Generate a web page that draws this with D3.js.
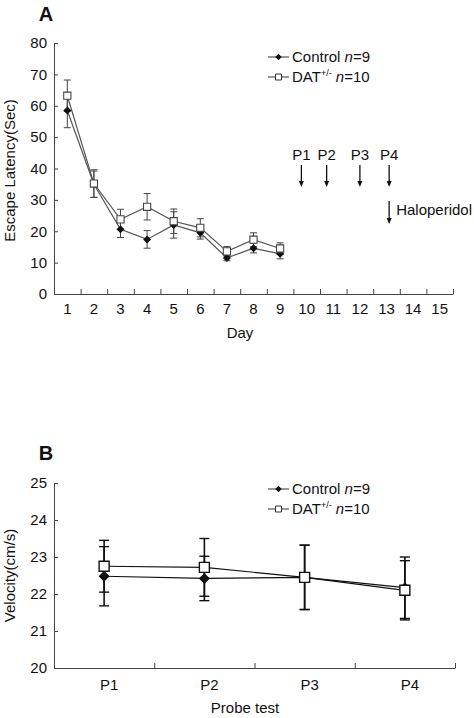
<!DOCTYPE html>
<html><head><meta charset="utf-8">
<script src="https://cdn.jsdelivr.net/npm/d3@7/dist/d3.min.js"></script>
<style>
body{margin:0;background:#fff}
text{font-family:Arial,"Liberation Sans",sans-serif;fill:#111}
</style>
</head><body>
<svg id="c" width="474" height="718"></svg>
<script>
// ---------- Data: panel A ----------
const dayCategories = [1,2,3,4,5,6,7,8,9,10,11,12,13,14,15];
const dataDays      = [1,2,3,4,5,6,7,8,9];
const controlA      = [58.5,35,20.6,17.4,22,19.5,11.5,14.6,12.8];
const controlAErr   = [5.5,4.2,2.6,2.8,4.2,2.0,0.9,1.5,1.6];
const datA          = [63.2,35.2,23.8,27.8,23.2,21.1,13.6,17.3,14.5];
const datAErr       = [5.0,4.4,3.2,4.2,3.9,2.9,1.5,2.2,1.8];
const yTicksA       = [0,10,20,30,40,50,60,70,80];
const probeLabels   = ["P1","P2","P3","P4"];
const probeDayPos   = [9.8,10.75,12.0,13.1];
const haloDayPos    = 13.1;

// ---------- Data: panel B ----------
const probeCategories = ["P1","P2","P3","P4"];
const controlB      = [22.48,22.42,22.45,22.17];
const controlBErr   = [0.8,0.6,0.87,0.83];
const datB          = [22.75,22.72,22.45,22.10];
const datBErr       = [0.7,0.78,0.87,0.80];
const yTicksB       = [20,21,22,23,24,25];

const svg = d3.select("#c");

function diamondPath(cx, cy, r){ return `M${cx},${cy-r}L${cx+r},${cy}L${cx},${cy+r}L${cx-r},${cy}Z`; }
function squarePath(cx, cy, h){ return `M${cx-h},${cy-h}H${cx+h}V${cy+h}H${cx-h}Z`; }

function legend(g, x, y, rowGap, fs){
  const rows = [{name:"Control ", n:"9", sym:"d"},{name:"DAT", sup:"+/-", n:"10", sym:"s"}];
  rows.forEach((r,i)=>{
    const yy = y + i*rowGap;
    g.append("line").attr("x1",x).attr("x2",x+21).attr("y1",yy).attr("y2",yy).attr("stroke","#333").attr("stroke-width",1);
    if(r.sym==="d") g.append("path").attr("d",diamondPath(x+10.5,yy,3.2)).attr("fill","#111");
    else g.append("path").attr("d",squarePath(x+10.5,yy,3)).attr("fill","#fff").attr("stroke","#333").attr("stroke-width",1);
    const t = g.append("text").attr("x",x+24).attr("y",yy).attr("dy","0.36em").attr("font-size",fs);
    t.append("tspan").text(r.name);
    if(r.sup){ t.append("tspan").attr("font-size",fs*0.6).attr("dy","-0.7em").text(r.sup);
               t.append("tspan").attr("dy","0.42em").attr("font-size",fs).text(" "); }
    t.append("tspan").attr("font-style","italic").text("n");
    t.append("tspan").text("=" + r.n);
  });
}

// ================= Panel A =================
(function(){
  const left=54, right=453, top=43, bottom=294;
  const x = d3.scaleBand().domain(dayCategories).range([left,right]).padding(0);
  const xl = d3.scaleLinear().domain([0.5,15.5]).range([left,right]);
  const y = d3.scaleLinear().domain([0,80]).range([bottom,top]);
  const cx = d => x(d)+x.bandwidth()/2;
  const g = svg.append("g");

  const ya = d3.axisLeft(y).tickValues(yTicksA).tickFormat(d3.format("d")).tickSizeInner(-4).tickSizeOuter(0).tickPadding(7);
  const yg = g.append("g").attr("transform",`translate(${left},0)`).call(ya);
  yg.selectAll("text").attr("font-size",15).style("font-family","Arial, Liberation Sans");
  yg.selectAll("line,path").attr("stroke","#444");

  const xa = d3.axisBottom(x).tickSize(0).tickPadding(9);
  const xg = g.append("g").attr("transform",`translate(0,${bottom})`).call(xa);
  xg.selectAll("text").attr("font-size",15).style("font-family","Arial, Liberation Sans");
  xg.select("path").attr("stroke","#444");
  const bt = d3.axisBottom(xl).tickValues(dayCategories.map(d=>d+0.5)).tickSizeInner(-5).tickSizeOuter(0).tickFormat("");
  const bg = g.append("g").attr("transform",`translate(0,${bottom})`).call(bt);
  bg.select("path").remove();
  bg.selectAll("line").attr("stroke","#444");

  g.append("text").attr("x",46).attr("y",21).attr("font-size",20).attr("font-weight","bold").attr("text-anchor","middle").text("A");
  g.append("text").attr("transform",`translate(15,${(top+bottom)/2+2}) rotate(-90)`).attr("text-anchor","middle").attr("font-size",15).text("Escape Latency(Sec)");
  g.append("text").attr("x",240).attr("y",338).attr("text-anchor","middle").attr("font-size",15).text("Day");

  const series = [
    {v:controlA, e:controlAErr, sym:"d"},
    {v:datA, e:datAErr, sym:"s"}
  ];
  const line = d3.line().x((d,i)=>cx(dataDays[i])).y(d=>y(d));
  series.forEach(s=>{
    g.append("path").attr("d",line(s.v)).attr("fill","none").attr("stroke","#555").attr("stroke-width",1.2);
  });
  series.forEach(s=>{
    s.v.forEach((v,i)=>{
      const xx = cx(dataDays[i]);
      const y1=y(v+s.e[i]), y2=y(v-s.e[i]);
      g.append("line").attr("x1",xx).attr("x2",xx).attr("y1",y1).attr("y2",y2).attr("stroke","#444").attr("stroke-width",1);
      [y1,y2].forEach(yy=>g.append("line").attr("x1",xx-3.5).attr("x2",xx+3.5).attr("y1",yy).attr("y2",yy).attr("stroke","#444").attr("stroke-width",1));
    });
  });
  series.forEach(s=>{
    s.v.forEach((v,i)=>{
      const xx = cx(dataDays[i]), yy=y(v);
      if(s.sym==="d") g.append("path").attr("d",diamondPath(xx,yy,4)).attr("fill","#111");
      else g.append("path").attr("d",squarePath(xx,yy,3.6)).attr("fill","#fff").attr("stroke","#444").attr("stroke-width",1.1);
    });
  });

  legend(g, 268, 57, 20, 15);

  probeLabels.forEach((p,i)=>{
    const xx = xl(probeDayPos[i]);
    g.append("text").attr("x",xx).attr("y",160).attr("text-anchor","middle").attr("font-size",15).text(p);
    g.append("line").attr("x1",xx).attr("x2",xx).attr("y1",165).attr("y2",182).attr("stroke","#111").attr("stroke-width",1.3);
    g.append("path").attr("d",`M${xx-2.5},${181}L${xx+2.5},${181}L${xx},${187}Z`).attr("fill","#111");
  });
  const hx = xl(haloDayPos);
  g.append("line").attr("x1",hx).attr("x2",hx).attr("y1",201).attr("y2",219).attr("stroke","#111").attr("stroke-width",1.3);
  g.append("path").attr("d",`M${hx-2.5},${218}L${hx+2.5},${218}L${hx},${224}Z`).attr("fill","#111");
  g.append("text").attr("x",hx+7).attr("y",210).attr("dy","0.36em").attr("font-size",15).text("Haloperidol");
})();

// ================= Panel B =================
(function(){
  const left=54, right=455, top=483, bottom=668;
  const x = d3.scaleBand().domain(probeCategories).range([left,right]).padding(0);
  const y = d3.scaleLinear().domain([20,25]).range([bottom,top]);
  const cx = d => x(d)+x.bandwidth()/2;
  const g = svg.append("g");

  const ya = d3.axisLeft(y).tickValues(yTicksB).tickFormat(d3.format("d")).tickSizeInner(-4).tickSizeOuter(0).tickPadding(7);
  const yg = g.append("g").attr("transform",`translate(${left},0)`).call(ya);
  yg.selectAll("text").attr("font-size",15).style("font-family","Arial, Liberation Sans");
  yg.selectAll("line,path").attr("stroke","#444");

  const xa = d3.axisBottom(x).tickSize(0).tickPadding(11);
  const xg = g.append("g").attr("transform",`translate(0,${bottom})`).call(xa);
  xg.selectAll("text").attr("font-size",15).style("font-family","Arial, Liberation Sans").attr("dx","5");
  xg.select("path").attr("stroke","#444");
  const xl = d3.scaleLinear().domain([0,4]).range([left,right]);
  const bt = d3.axisBottom(xl).tickValues([1,2,3,4]).tickSizeInner(-5).tickSizeOuter(0).tickFormat("");
  const bg = g.append("g").attr("transform",`translate(0,${bottom})`).call(bt);
  bg.select("path").remove();
  bg.selectAll("line").attr("stroke","#444");

  g.append("text").attr("x",46).attr("y",460).attr("font-size",20).attr("font-weight","bold").attr("text-anchor","middle").text("B");
  g.append("text").attr("transform",`translate(15,${(top+bottom)/2}) rotate(-90)`).attr("text-anchor","middle").attr("font-size",15).text("Velocity(cm/s)");
  g.append("text").attr("x",245).attr("y",713).attr("text-anchor","middle").attr("font-size",15).text("Probe test");

  const series = [
    {v:controlB, e:controlBErr, sym:"d"},
    {v:datB, e:datBErr, sym:"s"}
  ];
  const line = d3.line().x((d,i)=>cx(probeCategories[i])).y(d=>y(d));
  series.forEach(s=>{
    g.append("path").attr("d",line(s.v)).attr("fill","none").attr("stroke","#111").attr("stroke-width",1.2);
  });
  series.forEach(s=>{
    s.v.forEach((v,i)=>{
      const xx = cx(probeCategories[i]);
      const y1=y(v+s.e[i]), y2=y(v-s.e[i]);
      g.append("line").attr("x1",xx).attr("x2",xx).attr("y1",y1).attr("y2",y2).attr("stroke","#111").attr("stroke-width",1.6);
      [y1,y2].forEach(yy=>g.append("line").attr("x1",xx-5).attr("x2",xx+5).attr("y1",yy).attr("y2",yy).attr("stroke","#111").attr("stroke-width",1.4));
    });
  });
  series.forEach(s=>{
    s.v.forEach((v,i)=>{
      const xx = cx(probeCategories[i]), yy=y(v);
      if(s.sym==="d") g.append("path").attr("d",diamondPath(xx,yy,5.5)).attr("fill","#111");
      else g.append("path").attr("d",squarePath(xx,yy,5)).attr("fill","#fff").attr("stroke","#111").attr("stroke-width",1.4);
    });
  });

  legend(g, 268, 489, 20, 15);
})();
</script>
</body></html>
